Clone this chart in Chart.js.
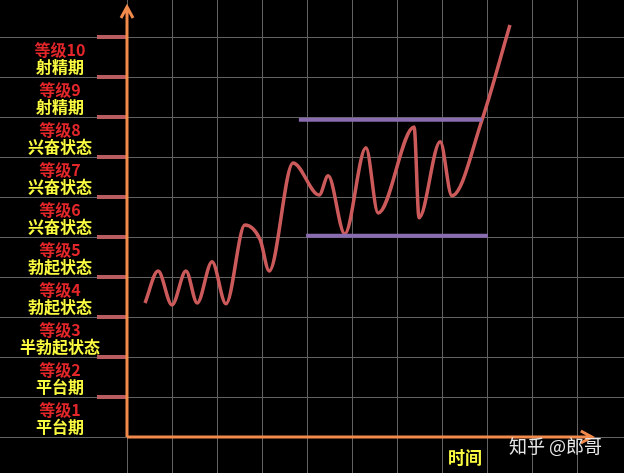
<!DOCTYPE html>
<html>
<head>
<meta charset="utf-8">
<script src="https://cdn.jsdelivr.net/npm/chart.js@4"></script>
<style>
  html, body { margin: 0; padding: 0; background: #000; }
  #wrap { width: 624px; height: 473px; position: relative; }
</style>
</head>
<body>
<div id="wrap"><canvas id="chart"></canvas></div>
<script>
// 等级 axis — labels for each band (等级1 at the bottom)
const levelTitles = ['等级1', '等级2', '等级3', '等级4', '等级5', '等级6', '等级7', '等级8', '等级9', '等级10'];
const levelStates = ['平台期', '平台期', '半勃起状态', '勃起状态', '勃起状态', '兴奋状态', '兴奋状态', '兴奋状态', '射精期', '射精期'];

// curve (x = time grid units, y = level)
const curveX = [0.40, 0.69, 1.00, 1.31, 1.56, 1.89, 2.20, 2.62, 2.96, 3.16, 3.69, 4.27, 4.47, 4.84, 5.31, 5.58, 6.38, 6.49, 6.96, 7.22, 7.89, 8.51];
const curveY = [3.35, 4.15, 3.30, 4.15, 3.35, 4.38, 3.33, 5.30, 4.93, 4.15, 6.85, 6.05, 6.53, 5.08, 7.23, 5.60, 7.75, 5.48, 7.38, 6.03, 7.93, 10.30];

// the two purple range lines
const upperX = [3.82, 7.89];
const upperY = [7.93, 7.93];
const lowerX = [3.98, 8.02];
const lowerY = [5.03, 5.03];

const axisTitle = '时间';
const watermark = '知乎 @郎哥';

const ORANGE = '#f28a4c';
const GRID = '#626262';
const FONT = '"Noto Sans CJK SC", sans-serif';

const pts = (xs, ys) => xs.map((x, i) => ({ x, y: ys[i] }));

// axes, arrows, level ticks and texts
const decor = {
    id: 'decor',
    afterDraw(chart) {
        const { ctx, scales: { x, y } } = chart;
        const ox = x.getPixelForValue(0);
        const oy = y.getPixelForValue(0);
        ctx.save();

        // level tick marks
        ctx.strokeStyle = '#b95c5f';
        ctx.lineWidth = 4;
        for (let i = 1; i <= levelTitles.length; i++) {
            const py = y.getPixelForValue(i);
            ctx.beginPath();
            ctx.moveTo(ox - 30, py);
            ctx.lineTo(ox - 1, py);
            ctx.stroke();
        }

        // band labels
        ctx.textAlign = 'center';
        ctx.textBaseline = 'middle';
        levelTitles.forEach((t, i) => {
            const top = y.getPixelForValue(i + 1);
            ctx.font = 'bold 16px ' + FONT;
            ctx.fillStyle = '#e3262a';
            ctx.fillText(t, 60, top + 13);
            ctx.fillStyle = '#fafa40';
            ctx.fillText(levelStates[i], 60, top + 30);
        });

        // orange axes with arrow heads
        ctx.strokeStyle = ORANGE;
        ctx.lineWidth = 3;
        ctx.lineJoin = 'miter';
        const topY = y.getPixelForValue(10.75);
        const endX = x.getPixelForValue(10.33);
        ctx.beginPath();
        ctx.moveTo(ox, oy);
        ctx.lineTo(ox, topY);
        ctx.moveTo(ox - 6, topY + 11);
        ctx.lineTo(ox, topY);
        ctx.lineTo(ox + 6, topY + 11);
        ctx.moveTo(ox, oy);
        ctx.lineTo(endX, oy);
        ctx.moveTo(endX - 11, oy - 6);
        ctx.lineTo(endX, oy);
        ctx.lineTo(endX - 11, oy + 6);
        ctx.stroke();

        // x axis title + watermark
        ctx.font = 'bold 17px ' + FONT;
        ctx.fillStyle = '#fafa40';
        ctx.fillText(axisTitle, 465, 458);
        ctx.font = '18px ' + FONT;
        ctx.fillStyle = '#e6e6e6';
        ctx.textAlign = 'left';
        ctx.fillText(watermark, 509, 446);
        ctx.restore();
    }
};

const gridColor = ctx => {
    const v = ctx.tick && ctx.tick.value;
    return Number.isInteger(v) && v >= 0 ? GRID : 'rgba(0,0,0,0)';
};

new Chart(document.getElementById('chart'), {
    type: 'line',
    data: {
        datasets: [
            {
                data: pts(upperX, upperY),
                borderColor: '#8a6db0',
                borderWidth: 4,
                pointRadius: 0
            },
            {
                data: pts(lowerX, lowerY),
                borderColor: '#8a6db0',
                borderWidth: 4,
                pointRadius: 0
            },
            {
                data: pts(curveX, curveY),
                borderColor: '#cc5a5a',
                borderWidth: 3.5,
                pointRadius: 0,
                cubicInterpolationMode: 'monotone'
            }
        ]
    },
    plugins: [decor],
    options: {
        responsive: true,
        maintainAspectRatio: false,
        animation: false,
        layout: { padding: 0 },
        plugins: { legend: { display: false }, tooltip: { enabled: false } },
        scales: {
            x: {
                type: 'linear',
                min: -127 / 45,
                max: 497 / 45,
                ticks: { display: false, stepSize: 1 },
                border: { display: false },
                grid: { color: gridColor, drawTicks: false, lineWidth: 1 }
            },
            y: {
                type: 'linear',
                min: -36 / 40,
                max: 437 / 40,
                ticks: { display: false, stepSize: 1 },
                border: { display: false },
                grid: { color: gridColor, drawTicks: false, lineWidth: 1 }
            }
        }
    }
});
</script>
</body>
</html>
